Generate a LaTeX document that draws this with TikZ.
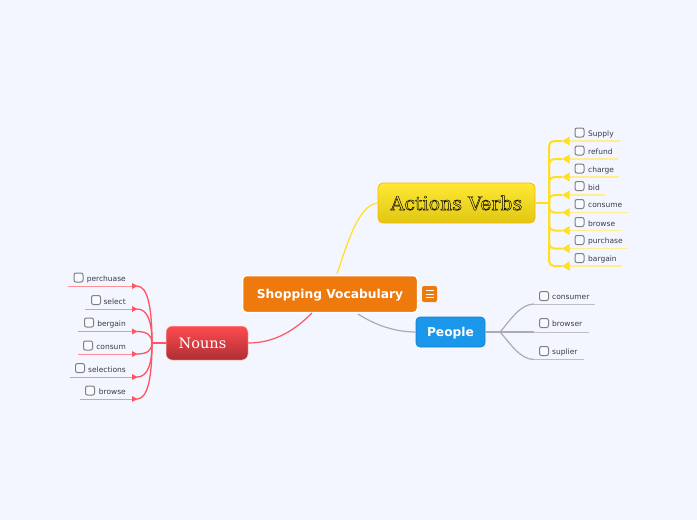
\documentclass[tikz,border=0pt]{standalone}
\usepackage{fontspec}
\setmainfont{DejaVu Sans}
\newfontfamily\slabfont{DejaVu Serif}
\usetikzlibrary{arrows.meta}
\definecolor{pagebg}{HTML}{F3F6FF}
\definecolor{orangeb}{HTML}{EE790D}
\definecolor{blueb}{HTML}{1A96EA}
\definecolor{leafink}{HTML}{3A3A48}
\definecolor{yelmain}{HTML}{FFE01F}
\definecolor{yelpale}{HTML}{FFEE90}
\definecolor{yeltop}{HTML}{FFE933}
\definecolor{yelbot}{HTML}{DFC714}
\definecolor{redmain}{HTML}{FF5560}
\definecolor{redpale}{HTML}{FF9098}
\definecolor{redtop}{HTML}{FF4B4F}
\definecolor{redbot}{HTML}{AD2F33}
\definecolor{greymain}{HTML}{ABABB2}
\definecolor{greypale}{HTML}{BEBEC6}
\tikzset{
  x=1pt,y=-1pt,
  topic/.style={rounded corners=4pt,inner sep=0pt,text height=9pt,text depth=0pt,font=\bfseries\fontsize{12.25}{13}\selectfont,text=white},
  leaf/.style={font=\fontsize{7.5}{9}\selectfont,text=leafink,inner sep=0pt,anchor=west},
  rleaf/.style={font=\fontsize{7.5}{9}\selectfont,text=leafink,inner sep=0pt,anchor=east},
  cbox/.style={draw=black!50,line width=1pt,fill=pagebg!60!white,rounded corners=2pt,minimum size=9pt,inner sep=0pt},
  yl/.style={draw=yelmain,line width=2pt},
  yleaf/.style={draw=yelpale,line width=1.2pt},
  rl/.style={draw=redmain,line width=1.3pt},
  rleafline/.style={draw=redpale,line width=1pt},
  gl/.style={draw=greymain,line width=1.2pt},
  ytip/.style={fill=yelmain},
  rtip/.style={fill=redmain},
}
\begin{document}
\begin{tikzpicture}
\useasboundingbox[fill=pagebg] (0,0) rectangle (697,520);

\node[topic,fill=orangeb,draw=white,line width=1.5pt,minimum width=175pt,minimum height=37pt] (root) at (330,294) {Shopping Vocabulary};
\node[rounded corners=2pt,fill=orangeb,minimum width=15pt,minimum height=16pt,inner sep=0pt] (menu) at (429.5,294) {};
\draw[white,line width=.9pt] (425.5,290.5) -- (433.5,290.5) (425.5,294) -- (433.5,294) (425.5,297.5) -- (433.5,297.5);

\node[rounded corners=5pt,draw=orange!60!yellow,line width=.8pt,top color=yeltop,bottom color=yelbot,minimum width=157pt,minimum height=40pt,inner sep=0pt] (act) at (456.5,203) {\slabfont\fontsize{19}{19}\selectfont\special{pdf:code 1 Tr 0.45 w}Actions Verbs\special{pdf:code 0 Tr}};
\node[rounded corners=6pt,draw=red!20!white,line width=.5pt,top color=redtop,bottom color=redbot,text=white,minimum width=82pt,minimum height=34pt,inner sep=0pt] (nouns) at (207,343) {\hspace{-9pt}\slabfont\fontsize{14.5}{14}\selectfont Nouns};
\node[topic,fill=blueb,draw=blueb!85!black,line width=.6pt,minimum width=69pt,minimum height=30pt] (people) at (450.5,332) {People};

\draw[yelmain,line width=1.2pt] (root.north) ++(7,-1) .. controls (347,245) and (358,205) .. (act.west);
\draw[redmain,line width=1.2pt] (nouns.east) .. controls (275,343) and (295,330) .. (312,313);
\draw[greymain,line width=1.2pt] (358,314) .. controls (375,325) and (395,332) .. (people.west);

% Actions leaves
\coordinate (ajoin) at (549,203);
\draw[yl,line width=2.4pt] (act.east) -- (ajoin);
\foreach \nm/\txt/\cy/\ly/\lend in {a1/Supply/132.5/141/620,a2/refund/150.5/159/618,a3/charge/168.5/177/619,a4/bid/186/195/605,a5/consume/204/212.5/628,a6/browse/222/230.5/621,a7/purchase/240/248.5/628,a8/bargain/258/266/622}{
  \node[cbox] (\nm box) at (579.5,\cy) {};
  \node[leaf] (\nm) at (588,\cy+1.5) {\txt};
  \coordinate (\nm s) at (569,\ly);
  \coordinate (\nm e) at (\lend,\ly);
  \coordinate (\nm t) at (562,\ly);
  \draw[yleaf] (\nm s) -- (\nm e);
  \draw[yl,rounded corners=5pt] (ajoin) -- (549,\ly) -- (\nm t);
  \fill[ytip] (\nm t) -- (569.5,\ly-4.5) -- (569.5,\ly+4.5) -- cycle;
}

% Nouns leaves
\coordinate (njoin) at (152,343);
\draw[rl,line width=1.6pt] (nouns.west) -- (njoin);
\foreach \nm/\txt/\bx/\cy/\ly/\lstart in {n1/perchuase/78.5/277.5/286/68,n2/select/96/300/309/85,n3/bergain/89/322.5/331.5/78,n4/consum/88/345.5/354/78,n5/selections/80/368/377/70,n6/browse/90/390.5/399/80}{
  \node[cbox] (\nm box) at (\bx,\cy) {};
  \node[rleaf] (\nm) at (126,\cy+1.5) {\txt};
  \coordinate (\nm s) at (\lstart,\ly);
  \coordinate (\nm t) at (137,\ly);
  \draw[rleafline] (\nm s) -- (\nm t);
  \draw[rl] (njoin) .. controls (152,{343+(\ly-343)*0.6}) and (148,\ly) .. (\nm t);
  \fill[rtip] (137.5,\ly) -- (132,\ly-3) -- (132,\ly+3) -- cycle;
}

% People leaves
\coordinate (pjoin) at (500,332);
\draw[gl,line width=1.6pt] (people.east) -- (pjoin);
\foreach \nm/\txt/\cy/\ly/\lend in {p1/consumer/296/304/595,p2/browser/323/332/589,p3/suplier/351/359.5/584}{
  \node[cbox] (\nm box) at (544,\cy) {};
  \node[leaf] (\nm) at (552,\cy+1) {\txt};
  \coordinate (\nm s) at (534,\ly);
  \coordinate (\nm e) at (\lend,\ly);
  \draw[gl] (pjoin) .. controls (510,{332+(\ly-332)*0.4}) and (520,\ly) .. (\nm s);
  \draw[draw=greypale,line width=1pt] (\nm s) -- (\nm e);
}
\end{tikzpicture}
\end{document}
